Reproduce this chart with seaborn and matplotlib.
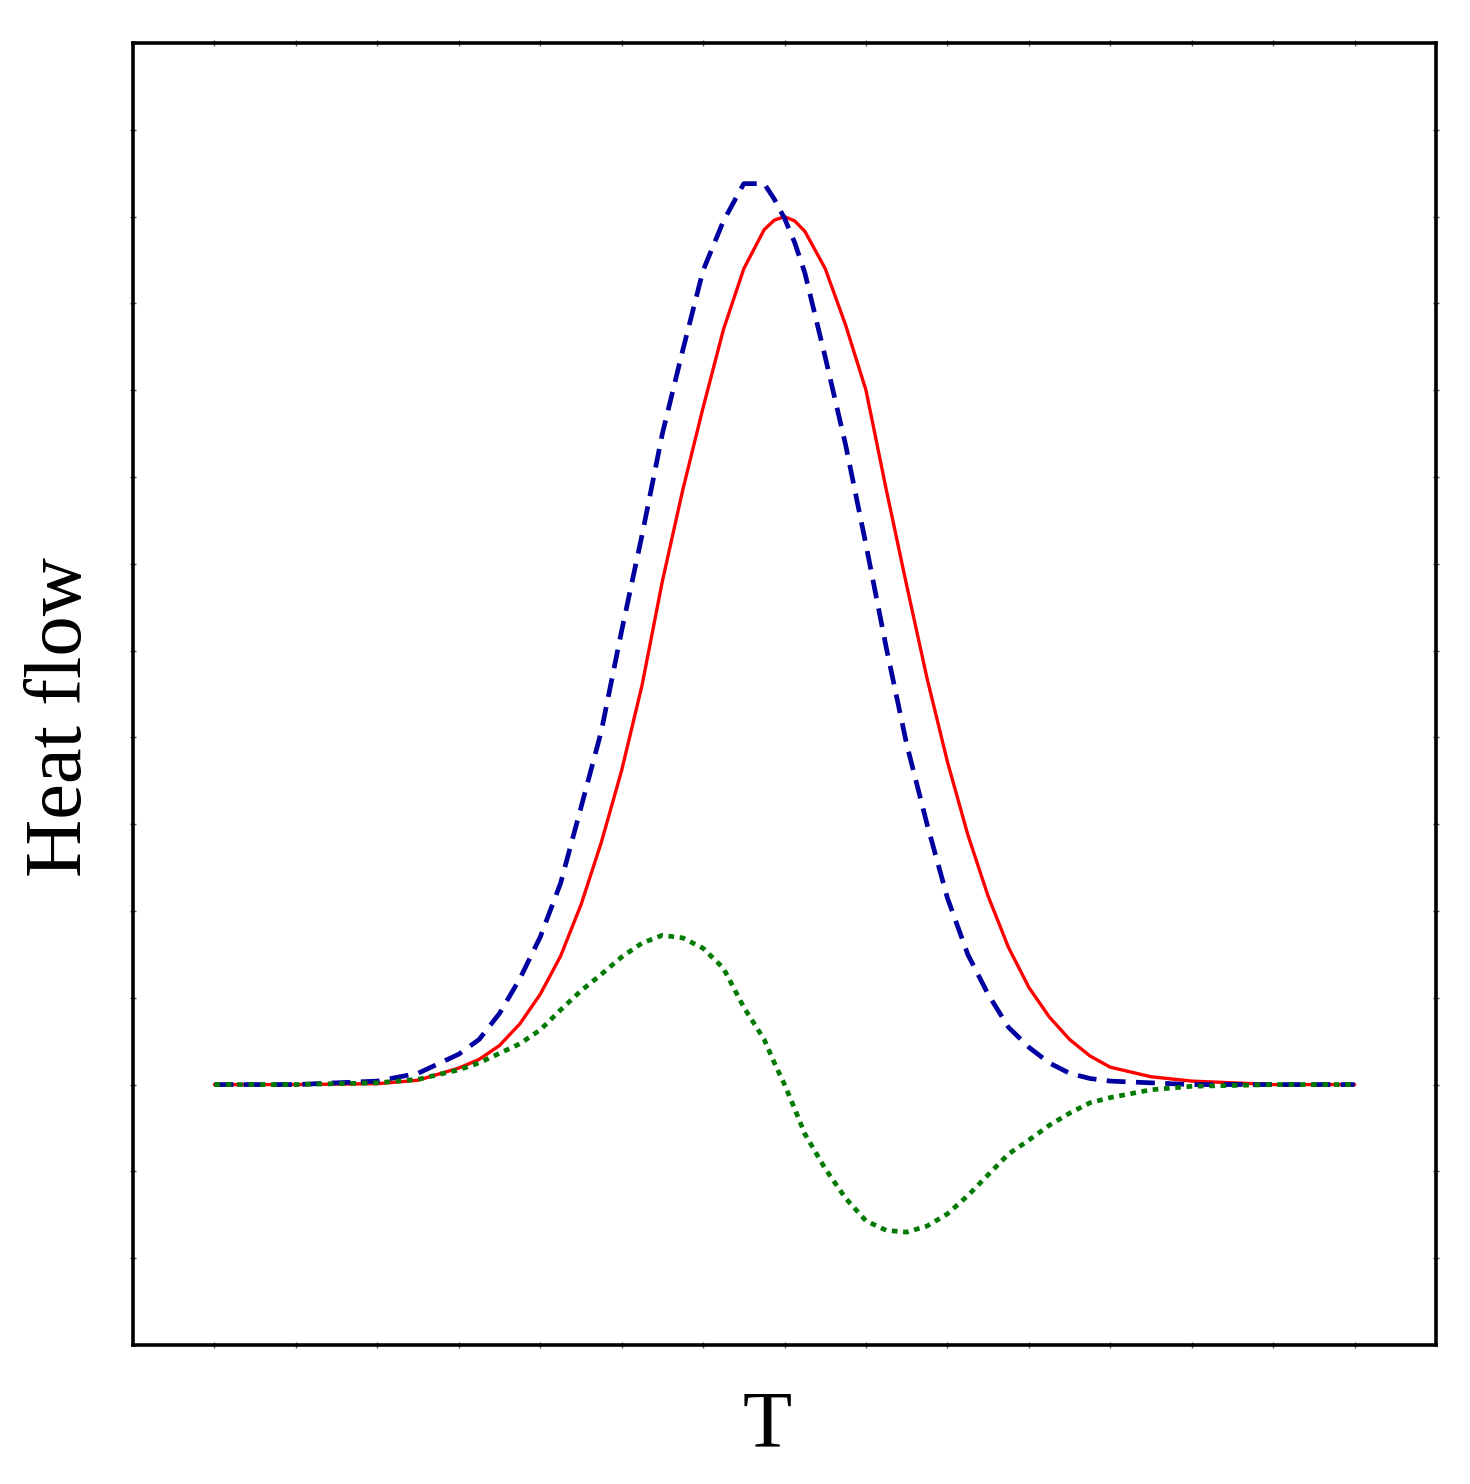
import numpy as np
import pandas as pd
import matplotlib
matplotlib.use("Agg")
import matplotlib.pyplot as plt
import seaborn as sns

# Valores (unidades arbitrárias)
T = [1, 2, 3, 3.5, 4, 4.25, 4.5, 4.75, 5, 5.25, 5.5, 5.75, 6, 6.25, 6.5, 6.75,
     7, 7.25, 7.5, 7.75, 7.875, 8, 8.125, 8.25, 8.5, 8.75, 9, 9.25, 9.5, 9.75, 10, 10.25,
     10.5, 10.75, 11, 11.25, 11.5, 11.75, 12, 12.5, 13, 14, 15]

fluxo_total = [3.0, 3.0, 3.01, 3.05, 3.19, 3.29, 3.45, 3.70, 4.04, 4.48, 5.07, 5.79,
               6.62, 7.6, 8.8, 9.85, 10.8, 11.7, 12.4, 12.85, 12.96, 13.0, 12.95, 12.83, 12.4,
               11.75, 11.0, 9.85, 8.75, 7.68, 6.72, 5.88, 5.17, 4.58, 4.12, 3.78,
               3.52, 3.33, 3.20, 3.09, 3.04, 3.0, 3.0]

fluxo_rev = [3.0, 3.0, 3.04, 3.13, 3.35, 3.52, 3.82, 4.22, 4.70, 5.32, 6.19, 7.07,
             8.23, 9.33, 10.5, 11.46, 12.38, 12.95, 13.38, 13.38, 13.2, 12.98, 12.7, 12.35,
             11.38, 10.37, 9.22, 8.03, 6.92, 6.0, 5.15, 4.5, 4.04, 3.66, 3.43,
             3.25, 3.13, 3.07, 3.04, 3.02, 3.0, 3.0, 3.0]

fluxo_nrev = [3.0, 3.0, 3.02, 3.06, 3.17, 3.25, 3.36, 3.47, 3.63, 3.86, 4.08, 4.27,
              4.47, 4.63, 4.72, 4.69, 4.57, 4.34, 3.89, 3.52, 3.25, 3.0, 2.72, 2.43, 2.03,
              1.69, 1.43, 1.32, 1.30, 1.37, 1.51, 1.72, 1.96, 2.20, 2.36, 2.53,
              2.67, 2.79, 2.85, 2.94, 2.98, 3.0, 3.0]

df = pd.DataFrame({"T": T, "total": fluxo_total, "rev": fluxo_rev, "nrev": fluxo_nrev})

sns.set_style("white")
plt.rcParams['font.family'] = ['Liberation Serif', 'DejaVu Serif']

fig = plt.figure(figsize=(14.7, 14.84), dpi=100)
ax = fig.add_axes([0.0905, 0.0937, 0.8864, 0.8773])

sns.lineplot(x="T", y="total", data=df, color="#ff0000", lw=2.4, ax=ax)
sns.lineplot(x="T", y="rev", data=df, color="#0000a0", lw=3.4, ls=(0, (4, 2.2)), ax=ax)
sns.lineplot(x="T", y="nrev", data=df, color="#007a00", lw=3.4, ls=(0, (1.2, 1.2)), ax=ax)

ax.set_xlim(0, 16)
ax.set_ylim(0, 15)
ax.set_xticks(np.arange(1, 16))
ax.set_yticks(np.arange(1, 15))
ax.set_xticklabels([])
ax.set_yticklabels([])
ax.tick_params(direction="inout", length=5, width=1, color="#555555",
               top=True, right=True, bottom=True, left=True)

for s in ax.spines.values():
    s.set_linewidth(2.6)
    s.set_color("black")

ax.set_xlabel("T", fontsize=58, color="black")
ax.set_ylabel("Heat flow", fontsize=58, color="black")
ax.xaxis.set_label_coords(0.487, -0.035, transform=ax.transAxes)
ax.xaxis.label.set_va("top")
ax.yaxis.set_label_coords(-0.027, 0.482, transform=ax.transAxes)
ax.yaxis.label.set_va("bottom")

fig.savefig("out.png", dpi=100)
